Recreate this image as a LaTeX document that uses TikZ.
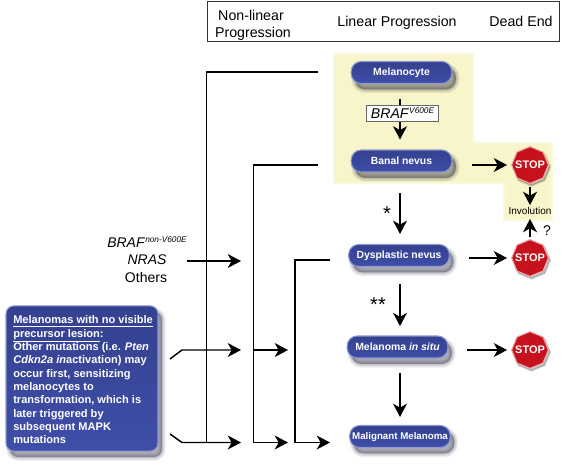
\documentclass[tikz,border=0pt]{standalone}
\usepackage{fontspec}
\setmainfont{Liberation Sans}
\usetikzlibrary{arrows.meta,shapes.geometric,shadows}
\definecolor{paleyellow}{HTML}{F7F5C9}
\definecolor{pillblue}{HTML}{3F4EA8}
\definecolor{pilldark}{HTML}{34418F}
\definecolor{pilledge}{HTML}{8E98CF}
\definecolor{stopred}{HTML}{C6121C}
\definecolor{shadowink}{HTML}{15152F}
\definecolor{framegray}{HTML}{333333}
\newcommand{\fs}[1]{\fontsize{#1}{#1}\selectfont}
\tikzset{
  shadowlayer/.style={general shadow={shadow xshift=3pt,shadow yshift=-4.4pt,fill=shadowink,draw=shadowink,line width=#1,opacity=.045}},
  softshadow/.style={shadowlayer=6pt,shadowlayer=5pt,shadowlayer=4pt,shadowlayer=3.2pt,shadowlayer=2.4pt,shadowlayer=1.6pt,shadowlayer=.8pt,
    general shadow={shadow xshift=3pt,shadow yshift=-4.4pt,fill=shadowink,opacity=.12}},
  pill/.style={softshadow,rounded corners=7.5pt,draw=pilledge,line width=.8pt,top color=pilldark,bottom color=pillblue,
    text=white,font=\bfseries\fs{7.8},minimum height=16.5pt,minimum width=75.5pt,inner sep=0pt},
  stopsign/.style={regular polygon,regular polygon sides=8,shape border rotate=22.5,minimum size=27.6pt,inner sep=0pt,
    fill=stopred,draw=white!65!stopred,line width=.8pt,
    label={[inner sep=0pt,text=white,font=\bfseries\fs{8.2}]center:STOP},
    general shadow={shadow xshift=1.2pt,shadow yshift=-1.6pt,fill=black,draw=black,line width=2pt,opacity=.08},
    general shadow={shadow xshift=1.2pt,shadow yshift=-1.6pt,fill=black,draw=black,line width=.8pt,opacity=.14}},
  lbl/.style={inner sep=0pt,font=\fs{10.65}},
  arr/.style={line width=1.1pt,-{Stealth[length=10pt,width=10.5pt,inset=3pt]}},
  ln/.style={line width=1.1pt},
}
\begin{document}
\begin{tikzpicture}[x=.75pt,y=-.75pt]
\useasboundingbox (0,0) rectangle (563,469);
% yellow field
\fill[paleyellow,draw=paleyellow!70!white,line width=1pt]
  (334,54)--(473,54)--(473,143)--(552,143)--(552,220)--(504,220)--(504,183)--(334,183)--cycle;
% header
\node[draw=framegray,line width=.9pt,minimum width=264.5pt,minimum height=30.5pt,inner sep=0pt] (hdr) at (383.5,21.5) {};
\node[lbl] (h1) at (251,15.5) {Non-linear};
\node[lbl] (h2) at (253,33.5) {Progression};
\node[lbl] (h3) at (397,22.5) {Linear Progression};
\node[lbl] (h4) at (521,21.5) {Dead End};
% stage nodes
\node[pill] (mel) at (401.5,72.5) {Melanocyte};
\node[pill] (ban) at (401.5,161) {Banal nevus};
\node[pill] (dys) at (399,255.5) {Dysplastic nevus};
\node[pill] (mis) at (397.5,347) {Melanoma \textit{in situ}};
\node[pill,font=\bfseries\fs{7.3}] (mal) at (400,436.5) {Malignant Melanoma};
% stop signs
\node[stopsign] (s1) at (530,165) {};
\node[stopsign] (s2) at (530,258) {};
\node[stopsign] (s3) at (530,350) {};
\node[inner sep=0pt,font=\fs{7.5}] (inv) at (530,211) {Involution};
% named connector ends
\coordinate (ax) at (400,0);
\coordinate (v1) at (206.5,72);
\coordinate (v2) at (253.5,165);
\coordinate (v3) at (295,260);
\coordinate (e1) at (318,72);
\coordinate (e2) at (318,165);
\coordinate (e3) at (330,260);
\coordinate (b1) at (206.5,442.5);
\coordinate (b2) at (253.5,442.5);
\coordinate (b3) at (295,442.5);
\coordinate (m2) at (253.5,350);
\coordinate (t1) at (241,261);
\coordinate (t2) at (241,350);
\coordinate (t3) at (241,442.5);
\coordinate (t4) at (288,350);
\coordinate (t5) at (288,442.5);
\coordinate (t6) at (330,442.5);
\coordinate (f1) at (187,261);
\coordinate (f2a) at (170,359);
\coordinate (f2b) at (182,350);
\coordinate (f3a) at (170,434);
\coordinate (f3b) at (182,442.5);
% linear progression
\draw[arr,shorten <=11pt,shorten >=7.5pt] (mel.south -| ax) -- (ban.north -| ax);
\draw[arr,shorten <=15pt,shorten >=7.5pt] (ban.south -| ax) -- (dys.north -| ax);
\draw[arr,shorten <=13pt,shorten >=7pt] (dys.south -| ax) -- (mis.north -| ax);
\draw[arr,shorten <=11pt,shorten >=6pt] (mis.south -| ax) -- (mal.north -| ax);
% dead ends
\draw[arr,shorten <=15pt,shorten >=3pt] (ban.east |- s1) -- (s1.west);
\draw[arr,shorten <=14pt,shorten >=3pt] (dys.east |- s2) -- (s2.west);
\draw[arr,shorten <=14pt,shorten >=3pt] (mis.east |- s3) -- (s3.west);
\draw[arr,shorten <=2pt,shorten >=1.5pt] (s1.south) -- (inv.north);
\draw[arr,shorten <=1.5pt,shorten >=3pt] (s2.north) -- (inv.south);
% non-linear routes
\draw[ln] (e1) -- (v1) -- (b1);
\draw[ln] (e2) -- (v2) -- (b2);
\draw[ln] (e3) -- (v3) -- (b3);
\draw[arr] (f1) -- (t1);
\draw[arr] (f2a) -- (f2b) -- (t2);
\draw[arr] (f3a) -- (f3b) -- (t3);
\draw[arr] (m2) -- (t4);
\draw[arr] (b2) -- (t5);
\draw[arr] (b3) -- (t6);
% mutation box over its arrow
\node[fill=white,draw=black!60,line width=.7pt,minimum width=54.5pt,minimum height=12pt,inner sep=0pt,font=\fs{10.6}] (braf) at (402.5,113)
  {\textit{BRAF}\raisebox{3.6pt}{\fs{6.2}\textit{V600E}}};
% labels
\node[inner sep=0pt,font=\fs{15}] (st1) at (387,214) {*};
\node[inner sep=0pt,font=\fs{15}] (st2) at (378,305) {**};
\node[inner sep=0pt,font=\fs{10.5}] (qm) at (547,231) {?};
\node[inner sep=0pt,font=\fs{10.5},anchor=west] (l1) at (107,242) {\textit{BRAF}\raisebox{3.6pt}{\fs{6.2}\textit{non-V600E}}};
\node[inner sep=0pt,font=\fs{10.5}] (l2) at (147,259.5) {\textit{NRAS}};
\node[inner sep=0pt,font=\fs{10.5}] (l3) at (146,277) {Others};
% big box
\node[softshadow,rounded corners=6pt,draw=pilledge,line width=.8pt,top color=pilldark,bottom color=pillblue,
  text=white,minimum width=114pt,minimum height=109pt,inner sep=0pt] (mbox) at (82,378.5) {};
\node[anchor=north west,inner sep=0pt,align=left,text=white,font=\bfseries\fontsize{8.3}{10}\selectfont] (mtxt) at (13,315.5)
 {\underline{Melanomas with no visible}\\
  \underline{precursor lesion}:\\
  Other mutations (i.e. \textit{Pten}\\
  \textit{Cdkn2a in}activation) may\\
  occur first, sensitizing\\
  melanocytes to\\
  transformation, which is\\
  later triggered by\\
  subsequent MAPK\\
  mutations};
\end{tikzpicture}
\end{document}
